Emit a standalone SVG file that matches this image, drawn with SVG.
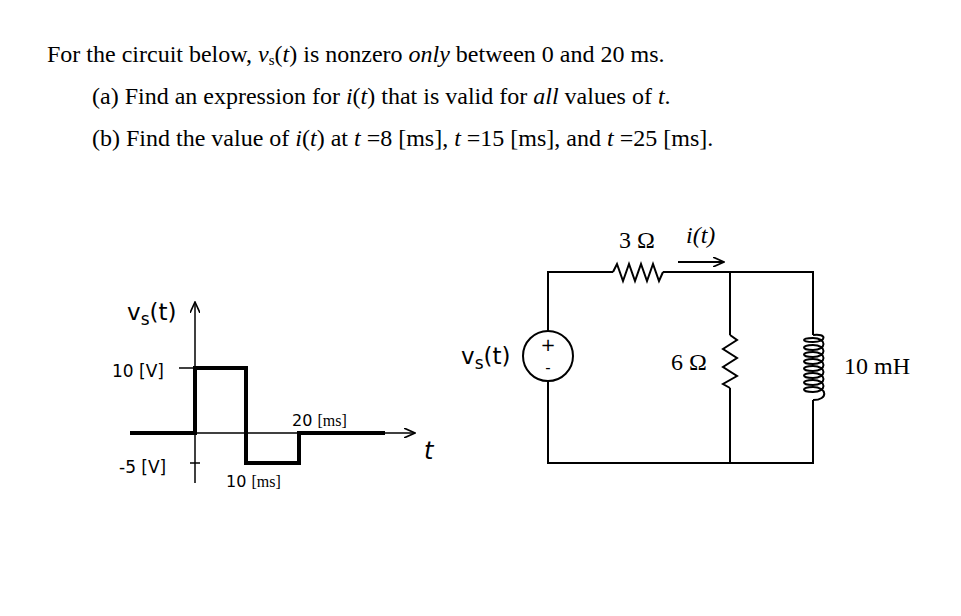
<svg xmlns="http://www.w3.org/2000/svg" width="961" height="616" viewBox="0 0 961 616">
<defs>
<marker id="ah" viewBox="0 0 12 10" refX="11" refY="5" markerWidth="12" markerHeight="10" markerUnits="userSpaceOnUse" orient="auto"><path d="M0,0 L11,5 L0,10" fill="none" stroke="#000" stroke-width="1.6"/></marker>
</defs>
<style>
.t{font-family:"Liberation Serif",serif;font-size:24px;fill:#000}
.s{font-family:"DejaVu Sans",sans-serif;fill:#000}
.w{stroke:#000;stroke-width:2;fill:none}
.th{stroke-width:1.5}
.bk{stroke-width:4}
</style>
<rect width="961" height="616" fill="#fff"/>
<g id="text">
<text class="t" x="47" y="62">For the circuit below, <tspan font-style="italic">v</tspan><tspan font-size="15" dy="3">s</tspan><tspan dy="-3">(</tspan><tspan font-style="italic">t</tspan>) is nonzero <tspan font-style="italic">only</tspan> between 0 and 20 ms.</text>
<text class="t" x="92" y="104">(a) Find an expression for <tspan font-style="italic">i</tspan>(<tspan font-style="italic">t</tspan>) that is valid for <tspan font-style="italic">all</tspan> values of <tspan font-style="italic">t</tspan>.</text>
<text class="t" x="92" y="146">(b) Find the value of <tspan font-style="italic">i</tspan>(<tspan font-style="italic">t</tspan>) at <tspan font-style="italic">t</tspan> =8 [ms], <tspan font-style="italic">t</tspan> =15 [ms], and <tspan font-style="italic">t</tspan> =25 [ms].</text>
</g>
<g id="graph">
<line class="w th" x1="195" y1="483" x2="195" y2="302" marker-end="url(#ah)"/>
<line class="w th" x1="130" y1="433" x2="415" y2="433" marker-end="url(#ah)"/>
<line class="w th" x1="179" y1="368" x2="195" y2="368"/>
<line class="w th" x1="190" y1="463" x2="200" y2="463"/>
<polyline class="w bk" points="130,433 195,433 195,368 246,368 246,463 299,463 299,433 385,433"/>
<text class="s" x="127" y="320" font-size="23">v<tspan font-size="17" dy="5">s</tspan><tspan dy="-5">(t)</tspan></text>
<text class="s" x="112" y="377" font-size="17">10 [V]</text>
<text class="s" x="119" y="473" font-size="17">-5 [V]</text>
<text class="s" x="292" y="426" font-size="16">20 <tspan font-family="Liberation Serif">[ms]</tspan></text>
<text class="s" x="226" y="487" font-size="16">10 <tspan font-family="Liberation Serif">[ms]</tspan></text>
<text class="s" x="424" y="459" font-size="24" font-style="italic">t</text>
</g>
<g id="wires">
<polyline class="w" points="548,331 548,272 613,272"/>
<polyline class="w" points="663,272 813,272 813,335"/>
<line class="w" x1="730" y1="272" x2="730" y2="335"/>
<polyline class="w" points="548,381 548,463 813,463 813,400"/>
<line class="w" x1="730" y1="388" x2="730" y2="463"/>
<line class="w" x1="678" y1="262" x2="724" y2="262" marker-end="url(#ah)"/>
</g>
<g id="source">
<circle class="w" cx="548" cy="356" r="25"/>
<text class="s" x="548" y="351" font-size="18" text-anchor="middle">+</text>
<text class="s" x="548" y="373" font-size="15" text-anchor="middle">-</text>
<text class="s" x="461" y="364" font-size="23">v<tspan font-size="17" dy="5">s</tspan><tspan dy="-5">(t)</tspan></text>
</g>
<g id="r3">
<polyline class="w" points="613,272 617,264 623,281 629,264 635,281 641,264 647,281 653,264 659,281 663,272"/>
<text class="t" x="619" y="248" font-size="22">3 Ω</text>
<text class="t" x="686" y="243" font-size="22" font-style="italic">i(t)</text>
</g>
<g id="r6">
<polyline class="w" points="730,335 737,340 723,349 737,358 723,367 737,376 723,384 730,388"/>
<text class="t" x="671" y="370" font-size="22">6 Ω</text>
</g>
<g id="ind">
<path class="w" d="M813,335 C827,333 827,342 813,342 C801,342 801,338 813,338 C827,338 827,350 813,350 C801,350 801,345 813,345 C827,345 827,357 813,357 C801,357 801,352 813,352 C827,352 827,364 813,364 C801,364 801,359 813,359 C827,359 827,371 813,371 C801,371 801,366 813,366 C827,366 827,378 813,378 C801,378 801,373 813,373 C827,373 827,385 813,385 C801,385 801,380 813,380 C827,380 827,392 813,392 C801,392 801,387 813,387 C827,387 829,400 813,400"/>
<text class="t" x="844" y="374" font-size="22">10 mH</text>
</g>
</svg>
